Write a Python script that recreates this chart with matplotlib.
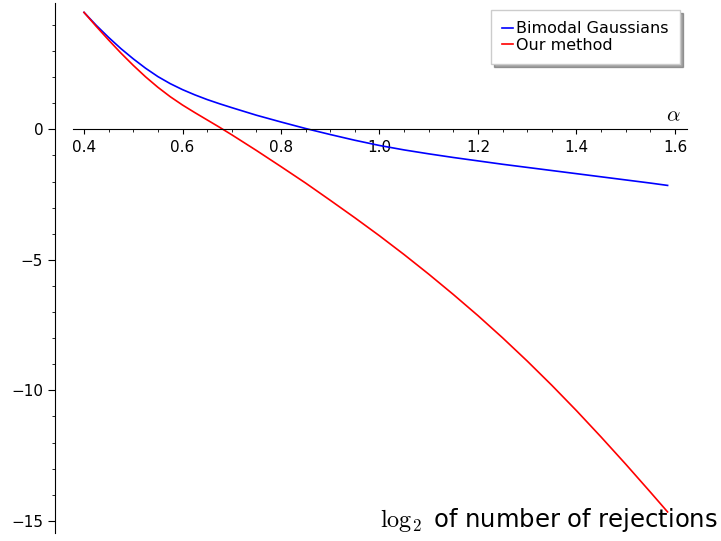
import numpy as np
import matplotlib
matplotlib.use("Agg")
import matplotlib.pyplot as plt
from matplotlib.ticker import MultipleLocator, FixedLocator

plt.rcParams['mathtext.fontset'] = 'cm'

# alpha values (x axis)
alpha = [0.400, 0.425, 0.450, 0.475, 0.500, 0.525, 0.550, 0.575, 0.600, 0.625,
         0.650, 0.675, 0.700, 0.750, 0.800, 0.850, 0.900, 0.950, 1.000, 1.050,
         1.100, 1.150, 1.200, 1.250, 1.300, 1.350, 1.400, 1.450, 1.500, 1.550, 1.585]

# log2 of number of rejections
bimodal = [4.48, 3.98, 3.52, 3.09, 2.70, 2.34, 2.02, 1.75, 1.52, 1.32,
           1.14, 0.98, 0.83, 0.54, 0.28, 0.03, -0.20, -0.42, -0.62, -0.79,
           -0.94, -1.08, -1.21, -1.34, -1.46, -1.58, -1.70, -1.82, -1.94, -2.06, -2.15]
ours = [4.48, 3.94, 3.42, 2.92, 2.45, 2.01, 1.61, 1.25, 0.93, 0.64,
        0.36, 0.08, -0.21, -0.81, -1.43, -2.06, -2.72, -3.39, -4.08, -4.80,
        -5.55, -6.33, -7.14, -7.99, -8.88, -9.81, -10.78, -11.79, -12.83, -13.90, -14.66]

W, H = 721, 541
fig = plt.figure(figsize=(W / 100, H / 100), dpi=100)
ax = fig.add_axes([55 / W, 8 / H, 632 / W, 530 / H])

ax.plot(alpha, bimodal, color=(0, 0, 1), lw=1.2, label='Bimodal Gaussians')
ax.plot(alpha, ours, color=(1, 0, 0), lw=1.2, label='Our method')

ax.set_xlim(0.3411, 1.6244)
ax.set_ylim(-15.467, 4.839)

ax.spines['top'].set_visible(False)
ax.spines['right'].set_visible(False)
ax.spines['bottom'].set_position(('data', 0))
ax.spines['bottom'].set_bounds(0.378, 1.6244)

ax.set_xticks([0.4, 0.6, 0.8, 1.0, 1.2, 1.4, 1.6])
ax.xaxis.set_minor_locator(FixedLocator(
    [v for v in np.arange(0.4, 1.61, 0.05) if abs(v * 5 - round(v * 5)) > 1e-6]))
ax.yaxis.set_major_locator(MultipleLocator(5))
ax.yaxis.set_minor_locator(MultipleLocator(1))
ax.tick_params(axis='x', which='major', length=3.5, labelsize=11, pad=4)
ax.tick_params(axis='x', which='minor', length=2)
ax.tick_params(axis='y', which='major', length=5, labelsize=11)
ax.tick_params(axis='y', which='minor', length=2.5)

ax.text(1.596, 0.55, r'$\alpha$', fontsize=15, ha='center', va='center')
fig.text(718 / W, 1 - 527 / H, r'$\log_2$ of number of rejections', fontsize=17.5,
         ha='right', va='baseline')

leg = ax.legend(loc='upper right', bbox_to_anchor=(680 / W, 1 - 10 / H),
                bbox_transform=fig.transFigure, shadow=True, fancybox=False,
                fontsize=11.5, handlelength=0.7, handletextpad=0.2,
                labelspacing=0.1, borderpad=0.7, borderaxespad=0)
leg.get_frame().set_edgecolor('#cccccc')

fig.savefig('out.png', dpi=100)
